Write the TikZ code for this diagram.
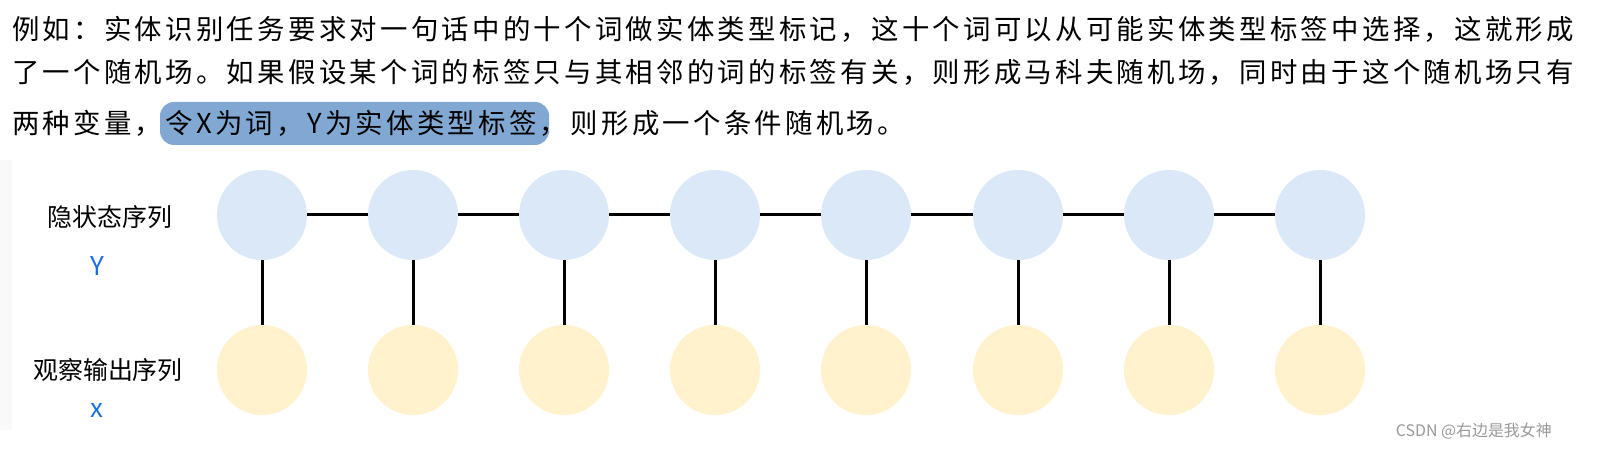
\documentclass[tikz,border=0pt]{standalone}
\usepackage{fontspec}
\setmainfont{Noto Sans CJK SC}
\newfontfamily\bodyfont[LetterSpace=12]{Noto Sans CJK SC}
\begin{document}
\begin{tikzpicture}[x=1bp,y=-1bp,
  txt/.style={anchor=base west,inner sep=0pt,font=\fontsize{27.5}{27.5}\bodyfont},
  hid/.style={circle,fill=hidc,minimum size=90bp,inner sep=0pt},
  obs/.style={circle,fill=obsc,minimum size=90bp,inner sep=0pt},
  edge/.style={line width=3bp,black},
  lab/.style={font=\fontsize{25}{25}\selectfont,inner sep=0pt},
  hand/.style={font=\fontsize{26}{26}\selectfont\itshape,text=handc,inner sep=0pt}]
\definecolor{hidc}{HTML}{DAE8F8}
\definecolor{obsc}{HTML}{FFF2CC}
\definecolor{hlc}{HTML}{80A8D2}
\definecolor{handc}{HTML}{1A6FE0}
\definecolor{bgc}{HTML}{F9F9FA}
\useasboundingbox (0,0) rectangle (1602,460);
\fill[white] (0,0) rectangle (1602,460);
\fill[bgc] (0,160) rectangle (12,430);
\fill[white] (12,170) rectangle (1368,415);
\fill[hlc,rounded corners=14bp] (160,102) rectangle (549,145);
\node[txt] (l1) at (12,40) {例如：实体识别任务要求对一句话中的十个词做实体类型标记，这十个词可以从可能实体类型标签中选择，这就形成};
\node[txt] (l2) at (12,83) {了一个随机场。如果假设某个词的标签只与其相邻的词的标签有关，则形成马科夫随机场，同时由于这个随机场只有};
\node[txt] (l3) at (12,134) {两种变量，令X为词，Y为实体类型标签，则形成一个条件随机场。};
\foreach \i/\x in {1/262,2/413,3/564,4/715,5/866,6/1018,7/1169,8/1320}{
  \node[hid] (h\i) at (\x,215) {};
  \node[obs] (o\i) at (\x,370) {};
  \draw[edge] (h\i) -- (o\i);
}
\foreach \i [evaluate=\i as \j using int(\i+1)] in {1,...,7}{
  \draw[edge] (h\i) -- (h\j);
}
\node[lab] (lh) at (110,217) {隐状态序列};
\node[lab] (lo) at (108,370) {观察输出序列};
\node[hand] (hy) at (97,266) {Y};
\node[hand] (hx) at (97,410) {x};
\node[font=\fontsize{16}{16}\selectfont,text=gray!80,anchor=east,inner sep=0pt] (wm) at (1552,431) {CSDN @右边是我女神};
\end{tikzpicture}
\end{document}
